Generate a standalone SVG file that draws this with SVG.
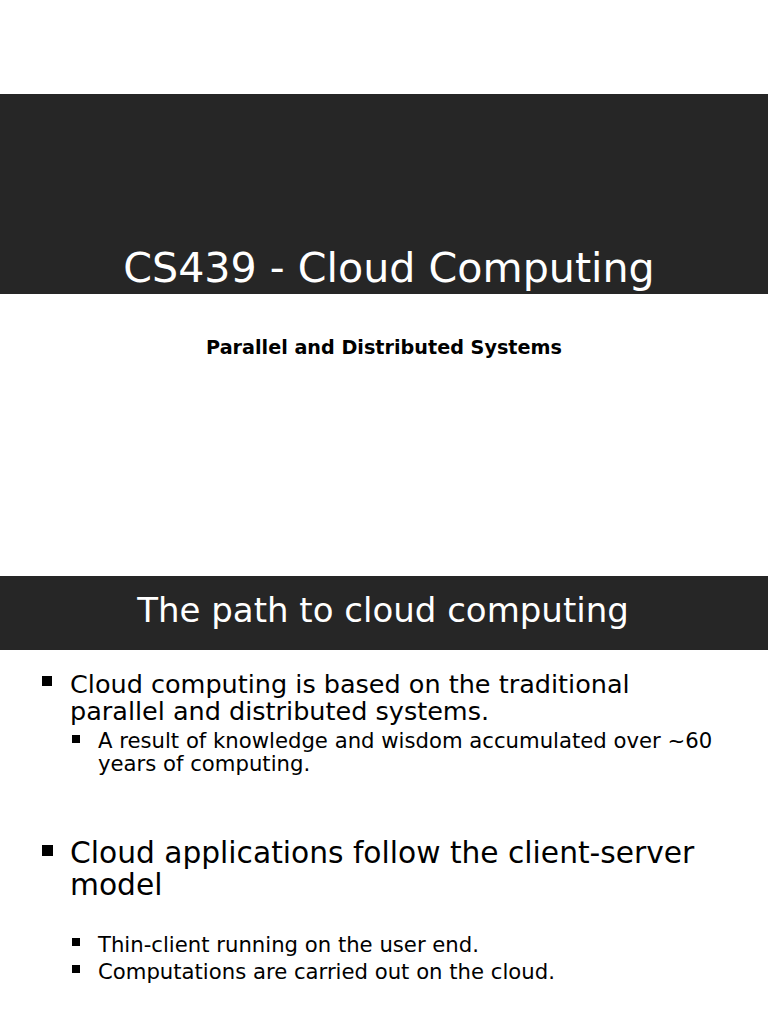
<svg xmlns="http://www.w3.org/2000/svg" width="768" height="1024" viewBox="0 0 768 1024">
<style>
text{font-family:"DejaVu Sans",sans-serif;fill:#000}
.w{fill:#fff}
.b1{font-size:25.5px}
.b2{font-size:21.2px}
</style>
<rect width="768" height="1024" fill="#fff"/>
<rect x="0" y="94" width="768" height="200" fill="#262626"/>
<text class="w" x="389" y="282" font-size="41.2" text-anchor="middle">CS439 - Cloud Computing</text>
<text x="384" y="354" font-size="19.2" font-weight="bold" text-anchor="middle">Parallel and Distributed Systems</text>
<rect x="0" y="576" width="768" height="74" fill="#262626"/>
<text class="w" x="383" y="622" font-size="34" text-anchor="middle">The path to cloud computing</text>
<rect x="42" y="676" width="10" height="10"/>
<text class="b1" x="70" y="693">Cloud computing is based on the traditional</text>
<text class="b1" x="70" y="720">parallel and distributed systems.</text>
<rect x="72" y="735" width="8" height="8"/>
<text class="b2" x="98" y="748">A result of knowledge and wisdom accumulated over ~60</text>
<text class="b2" x="98" y="771">years of computing.</text>
<rect x="42" y="845" width="11" height="11"/>
<text x="70" y="863" font-size="29.7">Cloud applications follow the client-server</text>
<text x="70" y="895" font-size="29.7">model</text>
<rect x="72" y="938" width="8" height="8"/>
<text class="b2" x="98" y="952">Thin-client running on the user end.</text>
<rect x="72" y="965" width="8" height="8"/>
<text class="b2" x="98" y="979">Computations are carried out on the cloud.</text>
</svg>
